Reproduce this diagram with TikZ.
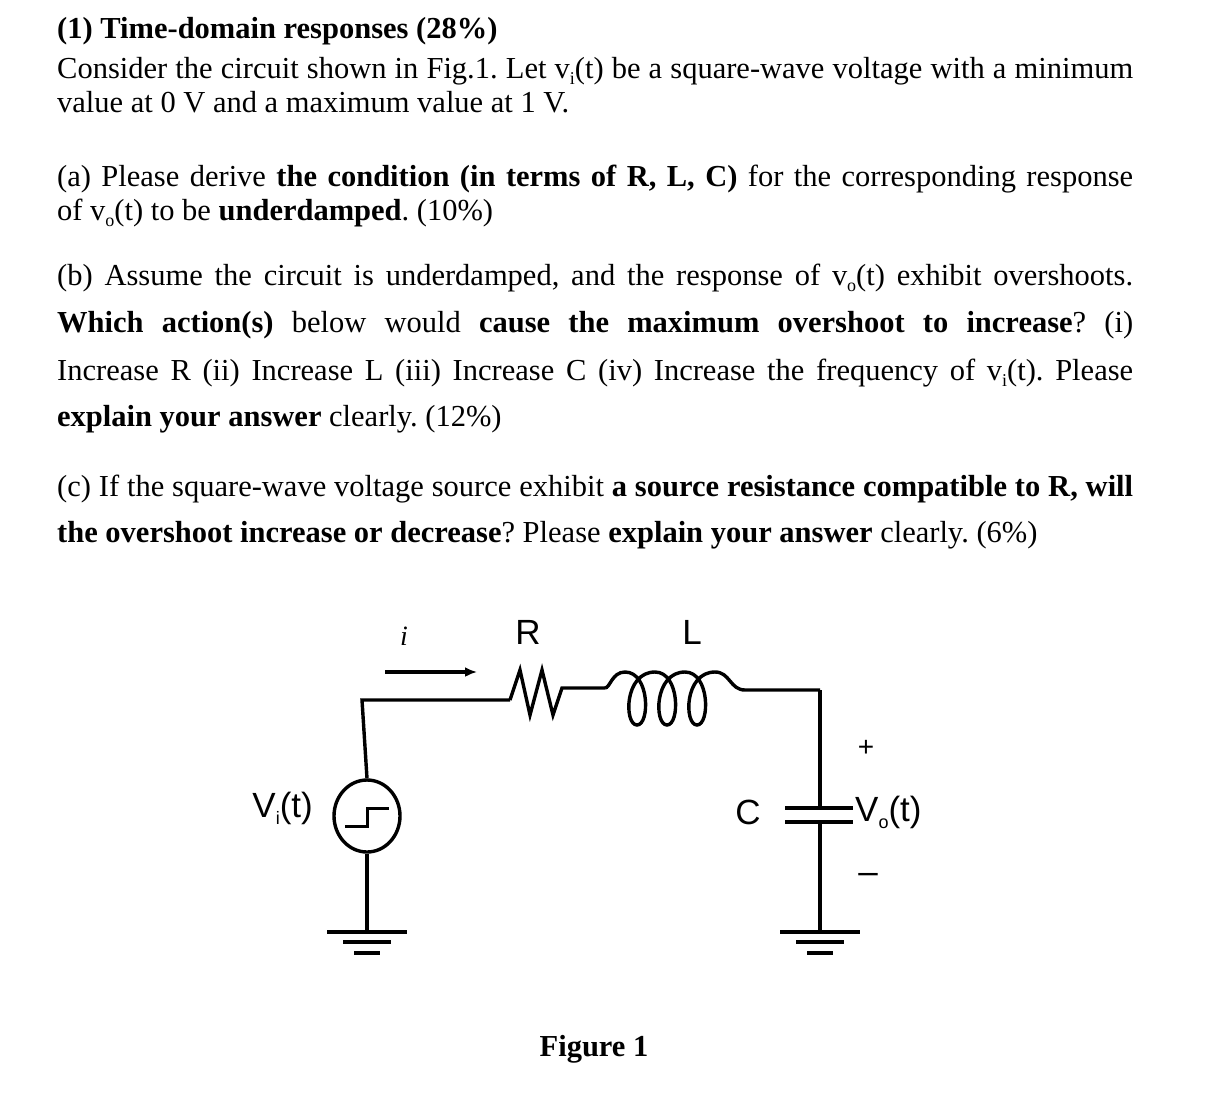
\documentclass[tikz,border=0pt]{standalone}
\usepackage{fontspec}
\usetikzlibrary{arrows.meta,shapes.geometric}
\setmainfont{Liberation Serif}
\newfontfamily\sansf{Liberation Sans}
\newcommand{\jline}[3]{\node[anchor=base west,inner sep=0] at (57,#1) {\fontsize{30.5}{32}\selectfont\frenchspacing\makebox[#2][s]{#3}};}
\newcommand{\lline}[2]{\node[anchor=base west,inner sep=0] at (57,#1) {\fontsize{30.5}{32}\selectfont\frenchspacing #2};}
\newcommand{\mysub}[1]{\raisebox{-0.2em}{\fontsize{18}{18}\selectfont #1}}
\begin{document}
\begin{tikzpicture}[x=1pt,y=-1pt,wire/.style={line width=3.4pt},lbl/.style={font=\sansf\fontsize{35}{35}\selectfont,inner sep=0}]
\useasboundingbox (0,0) rectangle (1220,1106);
\node[anchor=base west,inner sep=0] at (57,38) {\fontsize{30.5}{32}\selectfont\bfseries (1) Time-domain responses (28\%)};
\jline{78}{1076pt}{Consider the circuit shown in Fig.1. Let v\mysub{i}(t) be a square-wave voltage with a minimum}
\lline{112}{value at 0 V and a maximum value at 1 V.}
\jline{186}{1076pt}{(a) Please derive \textbf{the condition (in terms of R, L, C)} for the corresponding response}
\lline{220}{of v\mysub{o}(t) to be \textbf{underdamped}. (10\%)}
\jline{285}{1076pt}{(b) Assume the circuit is underdamped, and the response of v\mysub{o}(t) exhibit overshoots.}
\jline{332}{1076pt}{\textbf{Which action(s)} below would \textbf{cause the maximum overshoot to increase}? (i)}
\jline{380}{1076pt}{Increase R (ii) Increase L (iii) Increase C (iv) Increase the frequency of v\mysub{i}(t). Please}
\lline{426}{\textbf{explain your answer} clearly. (12\%)}
\jline{496}{1076pt}{(c) If the square-wave voltage source exhibit \textbf{a source resistance compatible to R, will}}
\lline{542}{\textbf{the overshoot increase or decrease}? Please \textbf{explain your answer} clearly. (6\%)}
\node[anchor=base,inner sep=0] (fig) at (594,1056) {\fontsize{30.5}{32}\selectfont\bfseries Figure 1};
% circuit
\node[draw,line width=3.4pt,ellipse,minimum width=66,minimum height=72,inner sep=0] (src) at (367,816) {};
\draw[wire] (src.north) -- (362,700) -- (510,700);
\draw[wire] (510,700) -- (520,670) -- (530,715) -- (542,670) -- (553,715) -- (562,688) -- (605,688);
\draw[wire] (605,688) .. controls (610,688) and (612,672) .. (625,672)
  .. controls (650,672) and (650,725) .. (637,725) .. controls (624,725) and (624,672) .. (655,672)
  .. controls (680,672) and (680,725) .. (667,725) .. controls (654,725) and (654,672) .. (685,672)
  .. controls (710,672) and (710,725) .. (697,725) .. controls (684,725) and (684,672) .. (715,672)
  .. controls (730,672) and (730,690) .. (745,690) -- (820,690);
\draw[wire] (820,690) -- (820,808);
\draw[wire] (785,808) -- (853,808);
\draw[wire] (785,822) -- (853,822);
\draw[wire] (820,822) -- (820,932);
\draw[wire] (src.south) -- (367,932);
\foreach \gx in {367,820}{
\draw[wire] (\gx-40,932) -- (\gx+40,932);
\draw[wire] (\gx-24,942) -- (\gx+24,942);
\draw[wire] (\gx-13,953) -- (\gx+13,953);}
\draw[line width=3pt] (345,826) -- (367,826) -- (367,808) -- (389,808);
\draw[line width=3.2pt,-{Latex[length=12pt,width=10pt]}] (385,672) -- (477,672);
\node[inner sep=0,font=\fontsize{28}{28}\selectfont\itshape] (i) at (404,636) {i};
\node[lbl] (R) at (528,632) {R};
\node[lbl] (L) at (692,632) {L};
\node[lbl] (C) at (748,812) {C};
\node[lbl,font=\sansf\fontsize{28}{28}\selectfont] (p) at (866,748) {+};
\node[lbl] (m) at (868,878) {–};
\node[lbl,anchor=west] (vo) at (855,812) {V\mysub{o}(t)};
\node[lbl,anchor=east] (vi) at (313,808) {V\mysub{i}(t)};
\end{tikzpicture}
\end{document}
